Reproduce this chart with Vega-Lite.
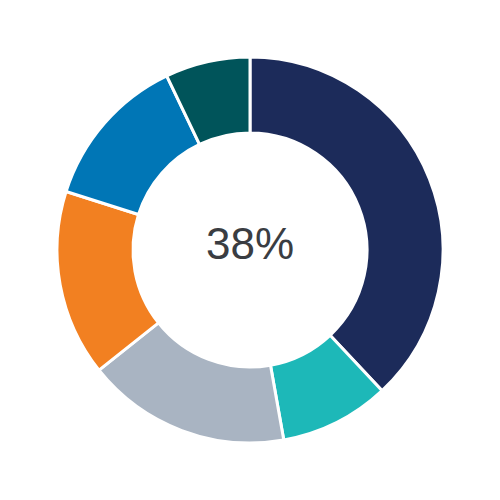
{
  "$schema": "https://vega.github.io/schema/vega-lite/v6.json",
  "width": 500,
  "height": 500,
  "autosize": {"type": "fit", "contains": "padding"},
  "padding": 0,
  "background": "white",
  "data": {
    "values": [
      {"seg": "A", "order": 1, "value": 38.0},
      {"seg": "B", "order": 2, "value": 9.2},
      {"seg": "C", "order": 3, "value": 17.1},
      {"seg": "D", "order": 4, "value": 15.6},
      {"seg": "E", "order": 5, "value": 13.0},
      {"seg": "F", "order": 6, "value": 7.1}
    ]
  },
  "layer": [
    {
      "mark": {"type": "arc", "outerRadius": 193, "innerRadius": 117, "stroke": "white", "strokeWidth": 3},
      "encoding": {
        "theta": {"field": "value", "type": "quantitative", "stack": true},
        "order": {"field": "order", "type": "quantitative"},
        "color": {
          "field": "seg",
          "type": "nominal",
          "legend": null,
          "scale": {
            "domain": ["A", "B", "C", "D", "E", "F"],
            "range": ["#1c2b5a", "#1db8b8", "#a9b4c2", "#f28021", "#0076b6", "#00545a"]
          }
        }
      }
    },
    {
      "data": {"values": [{"label": "38%"}]},
      "mark": {"type": "text", "fontSize": 44, "font": "Liberation Sans", "color": "#3a3d42", "baseline": "middle", "dy": -4},
      "encoding": {"text": {"field": "label"}}
    }
  ],
  "config": {"view": {"stroke": null}}
}
